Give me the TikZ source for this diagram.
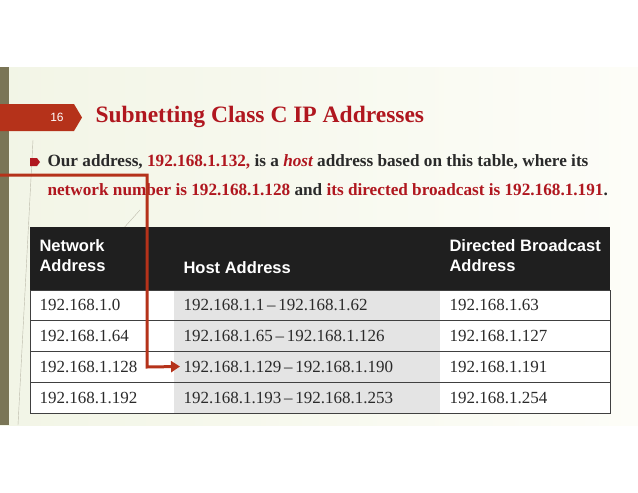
\documentclass[tikz,border=0pt]{standalone}
\usepackage{fontspec}
\setmainfont{Liberation Serif}
\newfontfamily\hdr{Liberation Sans}
\usetikzlibrary{arrows.meta}
\definecolor{dred}{HTML}{B0171F}
\definecolor{olive}{HTML}{7A7556}
\definecolor{bgA}{HTML}{F2F5E6}
\definecolor{bgB}{HTML}{FDFDF8}
\definecolor{cellg}{HTML}{E4E4E4}
\definecolor{banner}{HTML}{B5321A}
\definecolor{txt}{HTML}{2A2A2A}
\tikzset{
 cell/.style={anchor=west,font=\fontsize{17}{17}\selectfont,text=txt},
 hd/.style={anchor=west,align=left,font=\hdr\bfseries\fontsize{16.5}{20}\selectfont,text=white},
 body/.style={anchor=west,font=\bfseries\fontsize{17.2}{17}\selectfont,text=txt}
}
\newcommand{\rng}[2]{#1\,–\,#2}
\begin{document}
\begin{tikzpicture}[x=1pt,y=-1pt]
\useasboundingbox (0,0) rectangle (638,493);
\fill[white] (0,0) rectangle (638,493);
\shade[left color=bgA,right color=bgB] (0,67) rectangle (638,425);
\fill[olive] (0,67) rectangle (9,425);
\draw[olive!50,thin] (33,140) -- (18,425);
\draw[olive!50,thin] (140,210) -- (95,260);
\fill[banner] (0,104) -- (74,104) -- (82,117.5) -- (74,131) -- (0,131) -- cycle;
\node[text=white,font=\hdr\fontsize{12}{12}\selectfont] (num) at (57,117.5) {16};
\node[anchor=west,text=dred,font=\bfseries\fontsize{23.5}{23}\selectfont] (title) at (92,117) {Subnetting Class C IP Addresses};
\fill[dred] (30,158) -- (37,158) -- (40,162) -- (37,166) -- (30,166) -- cycle;
\node[body] (l1) at (44,162) {Our address, \textcolor{dred}{192.168.1.132,} is a \textcolor{dred}{\itshape host} address based on this table, where its};
\node[body] (l2) at (44,190) {\textcolor{dred}{network number is 192.168.1.128} and \textcolor{dred}{its directed broadcast is 192.168.1.191}.};
% table
\fill[black!88] (30,227) rectangle (610,290);
\fill[white] (30,290) rectangle (610,413);
\fill[cellg] (174,290) rectangle (440,413);
\foreach \y in {320,351,382} \draw[black!75,line width=0.8pt] (30,\y) -- (610,\y);
\draw[black!75,line width=0.8pt] (30,290) rectangle (610,413);
\node[hd] (h1) at (36,256) {Network\\Address};
\node[hd] (h2) at (180,268) {Host Address};
\node[hd] (h3) at (446,256) {Directed Broadcast\\Address};
\node[cell] (a1) at (36,305) {192.168.1.0};
\node[cell] (b1) at (180,305) {\rng{192.168.1.1}{192.168.1.62}};
\node[cell] (c1) at (446,305) {192.168.1.63};
\node[cell] (a2) at (36,335.5) {192.168.1.64};
\node[cell] (b2) at (180,335.5) {\rng{192.168.1.65}{192.168.1.126}};
\node[cell] (c2) at (446,335.5) {192.168.1.127};
\node[cell] (a3) at (36,366.5) {192.168.1.128};
\node[cell] (b3) at (180,366.5) {\rng{192.168.1.129}{192.168.1.190}};
\node[cell] (c3) at (446,366.5) {192.168.1.191};
\node[cell] (a4) at (36,397.5) {192.168.1.192};
\node[cell] (b4) at (180,397.5) {\rng{192.168.1.193}{192.168.1.253}};
\node[cell] (c4) at (446,397.5) {192.168.1.254};
\coordinate (s) at (0,175);
\draw[banner,line width=3pt,-{Triangle[length=9pt,width=11pt]}] (s) -- (147,175) -- (147,367) -- (b3.west);
\end{tikzpicture}
\end{document}
